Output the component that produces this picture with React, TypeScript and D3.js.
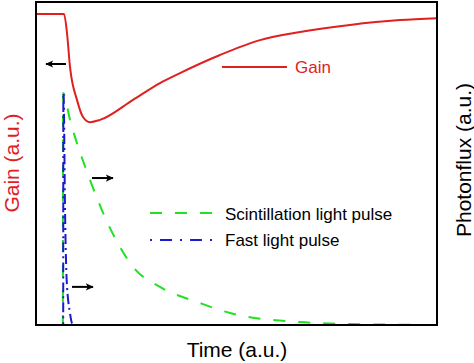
import React from "react";
import * as d3 from "d3";

const W = 474;
const H = 363;

// Time in a.u. (0-100), values in a.u. (0-1)
const gainTime = [0, 6.98, 7.73, 8.48, 10.22, 11.72, 13.47, 15.96, 24.19, 30.92, 35.91, 45.89, 55.86, 65.84, 78.3, 90.77, 100];
const gainValue = [0.963, 0.963, 0.904, 0.799, 0.697, 0.644, 0.628, 0.635, 0.697, 0.749, 0.78, 0.836, 0.882, 0.907, 0.929, 0.944, 0.95];

const scintTime = [0, 6.7, 6.75, 8.48, 13.47, 20.95, 24.19, 30.92, 40.9, 48.4, 65.8, 78.3, 100];
const scintValue = [0, 0, 0.718, 0.635, 0.449, 0.241, 0.18, 0.118, 0.068, 0.037, 0.009, 0.003, 0];

const fastTime = [0, 6.78, 6.82, 6.9, 7.23, 7.65, 8.48, 8.98, 9.73, 100];
const fastValue = [0, 0, 0.718, 0.71, 0.365, 0.139, 0.037, 0.006, 0, 0];

// arrows: [fromTime, toTime, level]
const arrowFrom = [7.48, 13.97, 8.98];
const arrowTo = [2.49, 19.2, 14.21];
const arrowLevel = [0.808, 0.455, 0.118];

const legendLabels = ["Gain", "Scintillation light pulse", "Fast light pulse"];

const RED = "#e0201f";
const GREEN = "#22e022";
const BLUE = "#1a1ad0";
const FONT = "'Liberation Sans', Arial, sans-serif";

export default function App() {
  const x = d3.scaleLinear().domain([0, 100]).range([36, 437]);
  const y = d3.scaleLinear().domain([0, 1]).range([325, 2]);

  const line = d3
    .line<[number, number]>()
    .x((d) => x(d[0]))
    .y((d) => y(d[1]))
    .curve(d3.curveMonotoneX);

  const gainPts = gainTime.map((t, i) => [t, gainValue[i]] as [number, number]);
  const scintPts = scintTime.map((t, i) => [t, scintValue[i]] as [number, number]);
  const fastPts = fastTime.map((t, i) => [t, fastValue[i]] as [number, number]);

  return (
    <svg width={W} height={H} style={{ position: "absolute", left: 0, top: 0, background: "#fff" }}>
      <defs>
        <marker id="ah" viewBox="0 0 10 10" refX="9" refY="5" markerWidth="9" markerHeight="8" orient="auto-start-reverse" markerUnits="userSpaceOnUse">
          <path d="M0,0.5 L10,5 L0,9.5 L2.5,5 Z" fill="#000" />
        </marker>
      </defs>
      <rect x={0} y={0} width={W} height={H} fill="#fff" />
      <path d={line(scintPts) || ""} fill="none" stroke={GREEN} strokeWidth={2} strokeDasharray="12 13" />
      <path d={line(fastPts) || ""} fill="none" stroke={BLUE} strokeWidth={2} strokeDasharray="10 4 2 4" />
      <path d={line(gainPts) || ""} fill="none" stroke={RED} strokeWidth={2} />
      <rect x={x(0)} y={y(1)} width={x(100) - x(0)} height={y(0) - y(1)} fill="none" stroke="#000" strokeWidth={2} />

      {arrowFrom.map((f, i) => (
        <line key={i} x1={x(f)} x2={x(arrowTo[i])} y1={y(arrowLevel[i])} y2={y(arrowLevel[i])} stroke="#000" strokeWidth={2} markerEnd="url(#ah)" />
      ))}

      {/* legend */}
      <line x1={222} x2={287} y1={67} y2={67} stroke={RED} strokeWidth={2} />
      <text x={295} y={73} fill={RED} fontFamily={FONT} fontSize={17}>{legendLabels[0]}</text>
      <line x1={150} x2={215} y1={213} y2={213} stroke={GREEN} strokeWidth={2} strokeDasharray="12 13" />
      <text x={225} y={220} fill="#000" fontFamily={FONT} fontSize={17}>{legendLabels[1]}</text>
      <line x1={150} x2={215} y1={240} y2={240} stroke={BLUE} strokeWidth={2} strokeDasharray="2 8 12 8" />
      <text x={225} y={246} fill="#000" fontFamily={FONT} fontSize={17}>{legendLabels[2]}</text>

      {/* axis labels */}
      <text x={237} y={357} textAnchor="middle" fontFamily={FONT} fontSize={21} fill="#000">Time (a.u.)</text>
      <text transform="translate(19,163) rotate(-90)" textAnchor="middle" fontFamily={FONT} fontSize={21} fill={RED}>Gain (a.u.)</text>
      <text transform="translate(471,160) rotate(-90)" textAnchor="middle" fontFamily={FONT} fontSize={21} fill="#000">Photonflux (a.u.)</text>
    </svg>
  );
}
